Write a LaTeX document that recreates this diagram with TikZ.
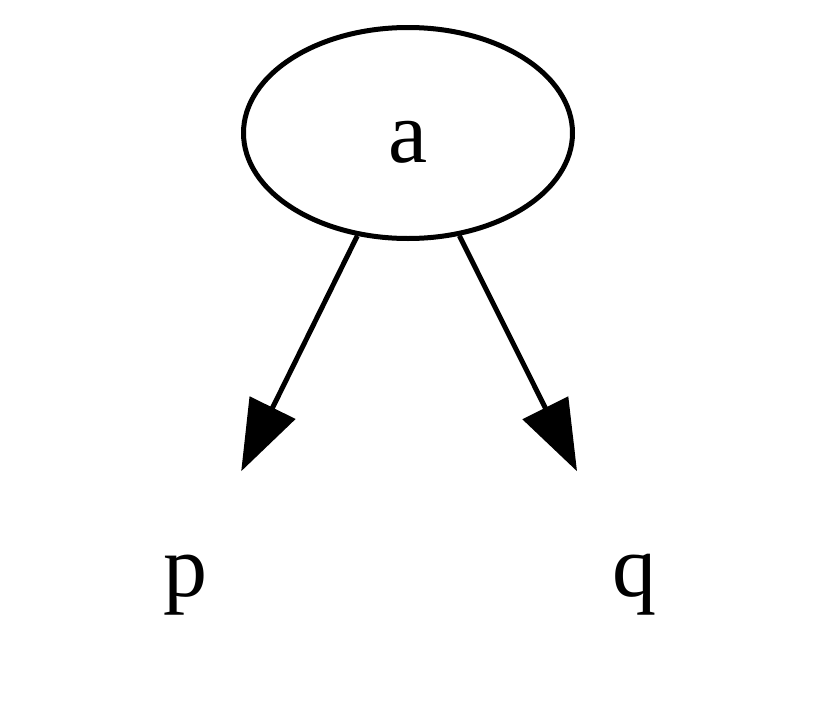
\documentclass[tikz,border=0pt]{standalone}
\usepackage{fontspec}
\setmainfont{Liberation Serif}
\usetikzlibrary{arrows.meta, shapes.geometric}

\begin{document}
\begin{tikzpicture}[
    x=1pt, y=-1pt,
    vertex/.style={ellipse, draw, line width=5pt, minimum width=329pt, minimum height=211pt, inner sep=0pt, text height=58pt, text depth=0pt, font=\fontsize{88pt}{88pt}\selectfont},
    leaf/.style={rectangle, minimum width=150pt, minimum height=229pt, inner sep=0pt, text height=20pt, text depth=0pt, font=\fontsize{88pt}{88pt}\selectfont},
    arrow/.style={-{Triangle[length=71pt, width=50pt]}, line width=5pt}
]
\useasboundingbox (0,0) rectangle (820,707);

\node[vertex] (a) at (408,133) {a};
\node[leaf] (p) at (185,586) {p};
\node[leaf] (q) at (634,586) {q};

\draw[arrow] (a) -- (p);
\draw[arrow] (a) -- (q);

\end{tikzpicture}
\end{document}
